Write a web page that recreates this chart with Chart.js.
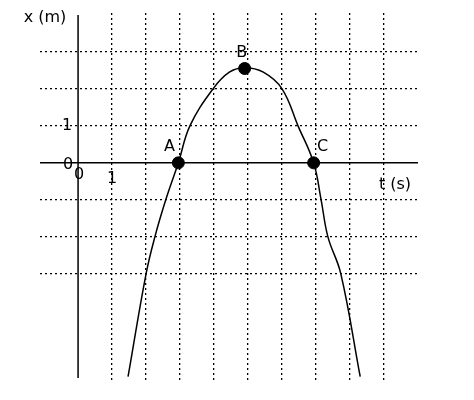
<!DOCTYPE html><html><head><script src="https://cdn.jsdelivr.net/npm/chart.js@4"></script>
<style>body{margin:0;background:#fff}#w{width:474px;height:400px}</style></head><body><div id="w"><canvas id="c"></canvas></div>
<script>
const curveT=[1.47,2.0,2.26,2.58,2.95,3.29,3.97,4.45,4.9,5.45,6.0,6.47,6.93,7.15,7.35,7.73,8.3];
const curveX=[-5.78,-3,-2,-1,0,1,2,2.45,2.57,2.45,2,1,0,-1,-2,-3,-5.78];
const pointNames=['A','B','C'];
const pointT=[2.95,4.9,6.93];
const pointX=[0,2.55,0];
const xTicks=[1,2,3,4,5,6,7,8,9];
const yTicks=[-3,-2,-1,1,2,3];
const F='16px "DejaVu Sans"';
const deco={id:'deco',afterDatasetsDraw(ch){
 const c=ch.ctx,x=ch.scales.x,y=ch.scales.y;const x0=x.getPixelForValue(0),y0=y.getPixelForValue(0);
 c.save();c.strokeStyle='#000';c.lineWidth=1.5;
 c.beginPath();c.moveTo(x0,15);c.lineTo(x0,378);c.moveTo(40,y0);c.lineTo(418,y0);c.stroke();
 c.fillStyle='#000';c.font=F;c.textBaseline='middle';c.textAlign='center';
 c.fillText('x (m)',45,18);c.fillText('t (s)',395,185);
 c.fillText('0',68,165);c.fillText('0',79,175);
 c.fillText('1',x.getPixelForValue(1),179);c.fillText('1',67,y.getPixelForValue(1));
 const off=[[-9,-16],[-3,-16],[9,-16]];
 pointNames.forEach((n,i)=>c.fillText(n,x.getPixelForValue(pointT[i])+off[i][0],y.getPixelForValue(pointX[i])+off[i][1]));
 c.restore();}};
new Chart(document.getElementById('c'),{type:'scatter',data:{datasets:[
 {data:curveT.map((t,i)=>({x:t,y:curveX[i]})),showLine:true,borderColor:'#000',borderWidth:1.5,pointRadius:0,tension:0.4},
 {data:pointT.map((t,i)=>({x:t,y:pointX[i]})),pointRadius:6,backgroundColor:'#000',borderColor:'#000'}]},
 options:{responsive:true,maintainAspectRatio:false,animation:false,layout:{padding:{left:40,right:56,top:13,bottom:17}},
 plugins:{legend:{display:false},tooltip:{enabled:false}},
 scales:{x:{type:'linear',min:-1.12,max:10,afterBuildTicks:s=>{s.ticks=xTicks.map(v=>({value:v}))},ticks:{display:false},border:{display:false,dash:[2,3]},grid:{drawTicks:false,color:'#000',lineWidth:1.3}},
  y:{type:'linear',min:-5.95,max:4.05,afterBuildTicks:s=>{s.ticks=yTicks.map(v=>({value:v}))},ticks:{display:false},border:{display:false,dash:[2,3]},grid:{drawTicks:false,color:'#000',lineWidth:1.3}}}},
 plugins:[deco]});
</script></body></html>
